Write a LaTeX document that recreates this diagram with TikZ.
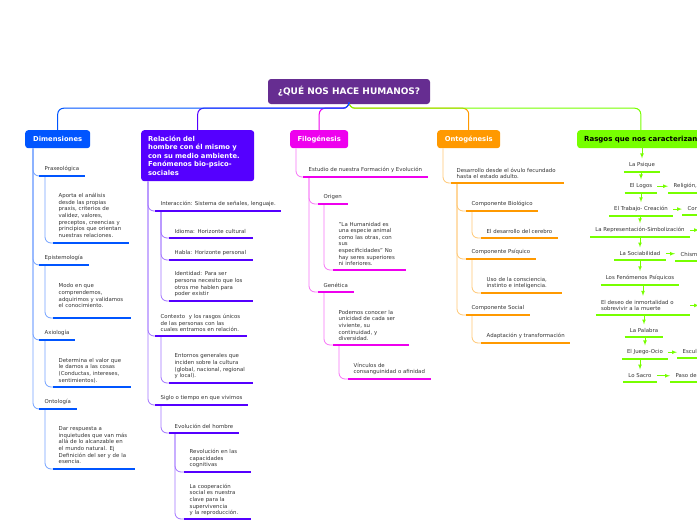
\documentclass[tikz,border=0pt]{standalone}
\usepackage{fontspec}
\setmainfont{DejaVu Sans}
\definecolor{ttl}{RGB}{102,45,145}
\definecolor{cdim}{RGB}{0,85,255}
\definecolor{crel}{RGB}{85,0,255}
\definecolor{cfil}{RGB}{238,0,238}
\definecolor{cont}{RGB}{255,153,0}
\definecolor{cras}{RGB}{119,255,0}

\begin{document}
\begin{tikzpicture}[x=1pt, y=-1pt, rounded corners=6pt,
        head/.style = {fill=#1, rounded corners=3pt, text=white, anchor=north west,
            font=\fontsize{6.8}{8.4}\selectfont\bfseries, minimum height=18pt, inner xsep=7pt},
        it/.style = {anchor=south west, inner xsep=5.5pt, inner ysep=4pt, align=left,
            text=black!80, font=\fontsize{5.4}{6.6}\selectfont},
        gr/.style = {it, anchor=south, align=center, inner xsep=5pt},
        trunk/.style = {draw=#1, line width=1pt},
        ln/.style = {draw=#1!55, line width=.8pt},
        ul/.style = {draw=#1, line width=2.6pt, sharp corners},
        ar/.style = {draw=cras, line width=.7pt, -latex, sharp corners}]

    \useasboundingbox (0,0) rectangle (697,520);
    \clip (0,0) rectangle (697,520);

    % title and main branches
    \node[fill=ttl, rounded corners=3pt, text=white, font=\fontsize{9}{10}\selectfont\bfseries,
        minimum width=162pt, minimum height=25pt] (t) at (349,91.5) {¿QUÉ NOS HACE HUMANOS?};
    \node[head=cdim, minimum width=65pt] (d) at (25,130) {Dimensiones};
    \node[head=crel, align=left, text width=99pt, minimum height=51pt] (r) at (141,130)
        {Relación del\\hombre con él mismo y\\con su medio ambiente.\\Fenómenos bio-psico-\\sociales};
    \node[head=cfil, minimum width=58pt] (f) at (290,130) {Filogénesis};
    \node[head=cont, minimum width=63pt] (o) at (437,130) {Ontogénesis};
    \node[head=cras, text=black, font=\fontsize{7}{8.4}\selectfont\bfseries, minimum width=126pt] (g) at (577,130) {Rasgos que nos caracterizan};

    \draw[trunk=cont] (t.south) -- ++(0,4) -| (o.north);
    \draw[trunk=cras] (t.south) -- ++(0,4) -| (g.north);
    \draw[trunk=cfil] (t.south) -- ++(0,4) -| (f.north);
    \draw[trunk=crel] (t.south) -- ++(0,4) -| (r.north);
    \draw[trunk=cdim] (t.south) -- ++(0,4) -| (d.north);

    % Dimensiones
    \node[it] (d1) at (39,176) {Praxeológica};
    \node[it, text width=65pt, inner ysep=5.5pt] (d1a) at (53,243) {Aporta el análisis\\desde las propias\\praxis, criterios de\\validez, valores,\\preceptos, creencias y\\principios que orientan\\nuestras relaciones.};
    \node[it] (d2) at (39,265) {Epistemología};
    \node[it, text width=67pt, inner ysep=10pt] (d2a) at (53,318) {Modo en que\\comprendemos,\\adquirimos y validamos\\el conocimiento.};
    \node[it] (d3) at (39,340) {Axiología};
    \node[it, text width=67pt] (d3a) at (53,387) {Determina el valor que\\le damos a las cosas\\(Conductas, intereses,\\sentimientos).};
    \node[it] (d4) at (39,409) {Ontología};
    \node[it, text width=71pt, inner ysep=5pt] (d4a) at (53,469) {Dar respuesta a\\inquietudes que van más\\allá de lo alcanzable en\\el mundo natural. Ej\\Definición del ser y de la\\esencia.};

    \foreach \b in {d1,d2,d3,d4}
        \draw[ln=cdim] ([xshift=8pt]d.south west) |- (\b.south west);
    \foreach \a/\b in {d1/d1a,d2/d2a,d3/d3a,d4/d4a}
        \draw[ln=cdim] ([xshift=6pt]\a.south west) |- (\b.south west);
    \foreach \n in {d1,d1a,d2,d2a,d3,d3a,d4,d4a}
        \draw[ul=cdim] (\n.south west) -- (\n.south east);

    % Relacion
    \node[it] (r1) at (155,211) {Interacción: Sistema de señales, lenguaje.};
    \node[it, text width=73pt] (r1a) at (169,238) {Idioma: Horizonte cultural};
    \node[it, text width=73pt] (r1b) at (169,260) {Habla: Horizonte personal};
    \node[it, text width=73pt] (r1c) at (169,301) {Identidad: Para ser\\persona necesito que los\\otros me hablen para\\poder existir};
    \node[it, text width=81pt] (r2) at (155,336) {Contexto \ y los rasgos únicos\\de las personas con las\\cuales entramos en relación.};
    \node[it, text width=73pt] (r2a) at (169,383) {Entornos generales que\\inciden sobre la cultura\\(global, nacional, regional\\y local).};
    \node[it] (r3) at (155,405) {Siglo o tiempo en que vivimos};
    \node[it] (r3a) at (169,433) {Evolución del hombre};
    \node[it, text width=56pt] (r3a1) at (184,472) {Revolución en las\\capacidades\\cognitivas};
    \node[it, text width=56pt, inner ysep=3pt] (r3a2) at (184,519) {La cooperación\\social es nuestra\\clave para la\\supervivencia\\y la reproducción.};

    \foreach \b in {r1,r2,r3}
        \draw[ln=crel] ([xshift=7pt]r.south west) |- (\b.south west);
    \foreach \a/\b in {r1/r1a,r1/r1b,r1/r1c,r2/r2a,r3/r3a,r3a/r3a1,r3a/r3a2}
        \draw[ln=crel] ([xshift=6pt]\a.south west) |- (\b.south west);
    \foreach \n in {r1,r1a,r1b,r1c,r2,r2a,r3,r3a,r3a1,r3a2}
        \draw[ul=crel] (\n.south west) -- (\n.south east);

    % Filogenesis
    \node[it] (f1) at (303,177) {Estudio de nuestra Formación y Evolución};
    \node[it] (f1a) at (318,204) {Origen};
    \node[it, text width=62pt] (f1a1) at (333,270) {"La Humanidad es\\una especie animal\\como las otras, con\\sus\\especificidades" No\\hay seres superiores\\ni inferiores.};
    \node[it] (f1b) at (318,292) {Genética};
    \node[it, text width=65pt] (f1b1) at (333,345) {Podemos conocer la\\unicidad de cada ser\\viviente, su\\continuidad, y\\diversidad.};
    \node[it] (f1b1a) at (348,379) {Vínculos de\\consanguinidad o afinidad};

    \draw[ln=cfil] ([xshift=6pt]f.south west) |- (f1.south west);
    \foreach \a/\b in {f1/f1a,f1/f1b,f1a/f1a1,f1b/f1b1,f1b1/f1b1a}
        \draw[ln=cfil] ([xshift=6pt]\a.south west) |- (\b.south west);
    \foreach \n in {f1,f1a,f1a1,f1b,f1b1,f1b1a}
        \draw[ul=cfil] (\n.south west) -- (\n.south east);

    % Ontogenesis
    \node[it, text width=102pt] (o1) at (451,183) {Desarrollo desde el óvulo fecundado\\hasta el estado adulto.};
    \node[it] (o1a) at (466,211) {Componente Biológico};
    \node[it] (o1a1) at (481,238) {El desarrollo del cerebro};
    \node[it] (o1b) at (466,259) {Componente Psíquico};
    \node[it, text width=70pt] (o1b1) at (481,293) {Uso de la consciencia,\\instinto e inteligencia.};
    \node[it] (o1c) at (466,315) {Componente Social};
    \node[it] (o1c1) at (481,343) {Adaptación y transformación};

    \draw[ln=cont] ([xshift=6pt]o.south west) |- (o1.south west);
    \foreach \a/\b in {o1/o1a,o1/o1b,o1/o1c,o1a/o1a1,o1b/o1b1,o1c/o1c1}
        \draw[ln=cont] ([xshift=6pt]\a.south west) |- (\b.south west);
    \foreach \n in {o1,o1a,o1a1,o1b,o1b1,o1c,o1c1}
        \draw[ul=cont] (\n.south west) -- (\n.south east);

    % Rasgos
    \node[gr] (g1) at (642,172) {La Psique};
    \node[gr] (g2) at (641,193) {El Logos};
    \node[gr] (g3) at (641,216) {El Trabajo- Creación};
    \node[gr] (g4) at (640,237) {La Representación-Simbolización};
    \node[gr] (g5) at (640,260) {La Sociabilidad};
    \node[gr] (g6) at (640,285) {Los Fenómenos Psíquicos};
    \node[gr, align=left, text width=84pt] (g7) at (643,315) {El deseo de inmortalidad o\\sobrevivir a la muerte};
    \node[gr] (g8) at (644,337) {La Palabra};
    \node[gr] (g9) at (645,359) {El Juego-Ocio};
    \node[gr] (g10) at (640,382) {Lo Sacro};

    \node[it] (g2r) at (668,193) {Religión,};
    \node[it] (g3r) at (682,215) {Con};
    \node[it] (g5r) at (675,261) {Chism};
    \node[it] (g9r) at (677,358) {Escul};
    \node[it] (g10r) at (670,382) {Paso de};
    \coordinate (rim) at (699,0);

    \draw[ar] (g1.north |- g.south) -- (g1.north);
    \foreach \a/\b in {g1/g2,g2/g3,g3/g4,g4/g5,g5/g6,g6/g7,g7/g8,g8/g9,g9/g10}
        \draw[ar] (\b.north |- \a.south) -- (\b.north);
    \foreach \a/\b in {g2/g2r,g3/g3r,g5/g5r,g9/g9r,g10/g10r}
        \draw[ar] (\a.east) -- (\a.east -| \b.west);
    \draw[ar] (g4.east) -- (g4.east -| rim);
    \draw[ar] (g7.east) -- (g7.east -| rim);
    \foreach \n in {g1,g2,g3,g4,g5,g6,g7,g8,g9,g10,g2r,g3r,g5r,g9r,g10r}
        \draw[ul=cras] (\n.south west) -- (\n.south east);

\end{tikzpicture}
\end{document}
